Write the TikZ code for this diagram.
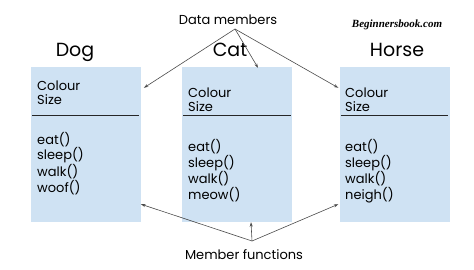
\documentclass[tikz,border=0pt]{standalone}
\usepackage{fontspec}
\setmainfont{Poppins}
\newfontfamily\logofont{Liberation Serif}
\usetikzlibrary{arrows.meta}
\definecolor{boxblue}{HTML}{CFE2F3}
\definecolor{arrowgray}{HTML}{4A4A4A}

\begin{document}
\begin{tikzpicture}[
    x=1pt, y=-1pt,
    classbox/.style={
      fill=boxblue,
      draw=none,
      inner sep=0pt,
      minimum width=110pt,
      minimum height=155pt
    },
    classname/.style={anchor=base, font=\fontsize{19}{19}\selectfont},
    members/.style={
      anchor=base west,
      align=left,
      inner sep=0pt,
      font=\fontsize{13}{14}\selectfont
    },
    caption/.style={anchor=base, font=\fontsize{13}{13}\selectfont},
    divider/.style={line width=1.3pt, draw=black!85},
    pointer/.style={-{Stealth[length=4.5pt,width=3pt]}, line width=0.6pt, draw=arrowgray}
  ]
  \useasboundingbox (0,0) rectangle (474,270);

  \node[classbox] (dog) at (85.75,144.5) {};
  \node[classbox] (cat) at (237,144.5) {};
  \node[classbox] (horse) at (394.5,144.5) {};

  \node[classname] (dogname) at (75,57) {Dog};
  \node[classname] (catname) at (230,57) {Cat};
  \node[classname] (horsename) at (397,57) {Horse};

  % base anchor sits on the last line
  \node[members] (dogattr) at (37,104.4) {Colour\\Size};
  \node[members] (dogfunc) at (37,192) {eat()\\sleep()\\walk()\\woof()};
  \node[members] (catattr) at (188,111.7) {Colour\\Size};
  \node[members] (catfunc) at (188,199.5) {eat()\\sleep()\\walk()\\meow()};
  \node[members] (horseattr) at (345,111.7) {Colour\\Size};
  \node[members] (horsefunc) at (345,199.5) {eat()\\sleep()\\walk()\\neigh()};

  \draw[divider] ([xshift=1.5pt,yshift=-49pt]dog.north west)
    -- ([xshift=-1.5pt,yshift=-49pt]dog.north east);
  \draw[divider] ([xshift=1.5pt,yshift=-49pt]cat.north west)
    -- ([xshift=-1.5pt,yshift=-49pt]cat.north east);
  \draw[divider] ([xshift=1.5pt,yshift=-49pt]horse.north west)
    -- ([xshift=-1.5pt,yshift=-49pt]horse.north east);

  \node[caption] (datamem) at (228,25) {Data members};
  \node[caption] (memfunc) at (244,259) {Member functions};
  \node[anchor=base, font=\logofont\bfseries\itshape\fontsize{11}{11}\selectfont]
    (logo) at (397,28) {Beginnersbook.com};

  \coordinate (dmsrc) at (235,29);
  \coordinate (mfsrc) at (252,241);

  \draw[pointer] (dmsrc) -- ([xshift=3pt,yshift=-21pt]dog.north east);
  \draw[pointer] (dmsrc) -- ([xshift=21pt,yshift=-1pt]cat.north);
  \draw[pointer] (dmsrc) -- ([xshift=-1pt,yshift=-21pt]horse.north west);
  \draw[pointer] (mfsrc) -- ([yshift=18pt]dog.south east);
  \draw[pointer] (mfsrc) -- ([xshift=14pt]cat.south);
  \draw[pointer] (mfsrc) -- ([xshift=-1pt,yshift=18pt]horse.south west);
\end{tikzpicture}
\end{document}
